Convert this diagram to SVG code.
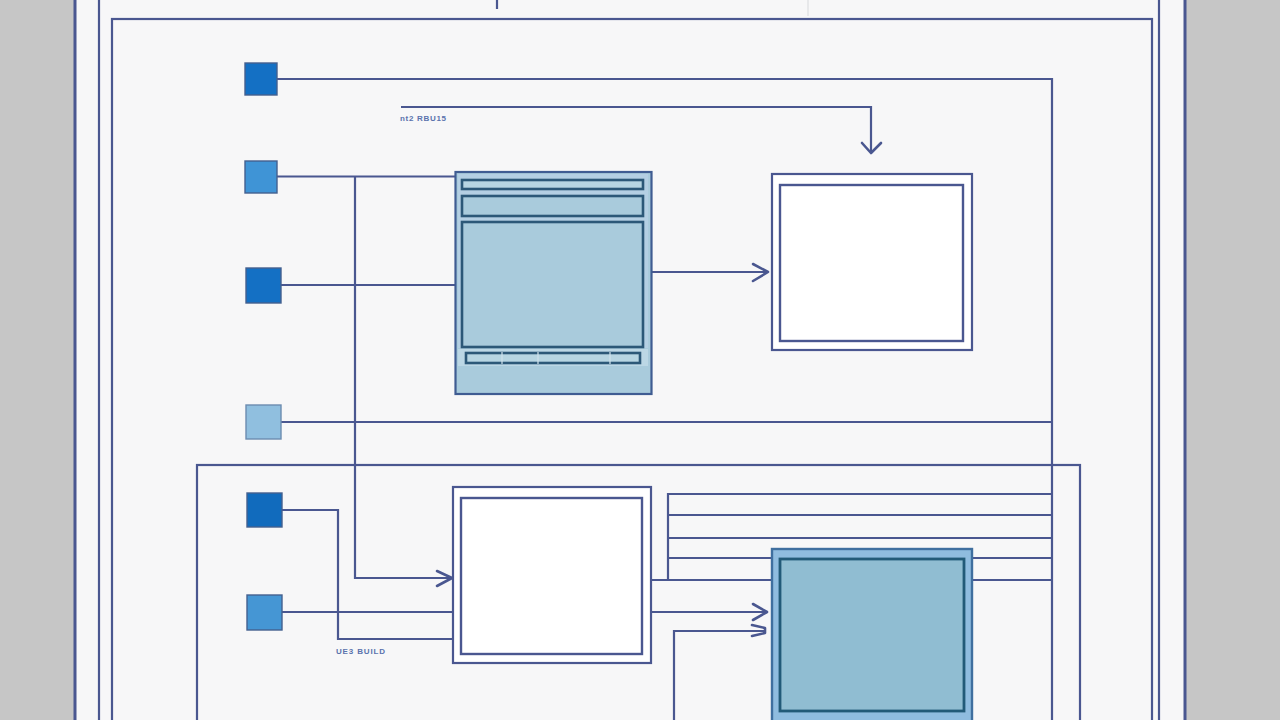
<svg xmlns="http://www.w3.org/2000/svg" width="1280" height="720" viewBox="0 0 1280 720">
<style>
.l{fill:none;stroke:#4a5790;stroke-width:2.2}
.f{stroke:#4a5790;stroke-width:2.2;fill:#f7f7f8}
.a{fill:none;stroke:#4a5790;stroke-width:2.6;stroke-linecap:round;stroke-linejoin:round}
.b{fill:#fff;stroke:#4a5790;stroke-width:2.2}
.d{stroke:#2c5878;stroke-width:2.6}
.t{font:bold 8px "Liberation Sans",Arial,sans-serif;fill:#5a73ad}
</style>
<rect width="1280" height="720" fill="#c6c6c6"/>
<rect id="page" x="75" y="-4" width="1110" height="730" class="f" style="stroke-width:3"/>
<rect id="frame2" x="99" y="-4" width="1060" height="730" class="f"/>
<rect id="frame3" x="112" y="19" width="1040" height="710" class="f"/>
<rect id="bottom-frame" x="197" y="465" width="883" height="260" class="f"/>
<g id="connectors">
<path class="l" d="M497 0V9"/>
<path d="M808 0V16" stroke="#e2e3e6" stroke-width="1.500" fill="none"/>
<path class="l" d="M277 79H1052V725"/>
<path class="l" d="M401 107H871V152"/>
<path class="a" d="M862 143L871 153L881 143"/>
<path class="l" d="M277 176.500H455"/>
<path class="l" d="M281 285H455"/>
<path class="l" d="M355 177V578H450"/>
<path class="a" d="M437 571L452 578L437 586"/>
<path class="l" d="M652 272H767"/>
<path class="a" d="M753 264L768 272L753 281"/>
<path class="l" d="M281 422H1052"/>
<path class="l" d="M282 510H338V639H453"/>
<path class="l" d="M282 612H453"/>
<path class="l" d="M652 580H772M972 580H1052"/>
<path class="l" d="M668 580V494H1052"/>
<path class="l" d="M668 515H1052M668 538H1052M668 558H772M972 558H1052"/>
<path class="l" d="M652 612H765"/>
<path class="a" d="M753 604L767 612L753 620"/>
<path class="l" d="M674 725V631H764"/>
<path class="a" d="M752 625L765 628L765 633L752 636"/>
</g>
<g id="n1"><rect x="245" y="63" width="32" height="32" fill="#1470c4" stroke="#44608f" stroke-width="1.400"/></g>
<g id="n2"><rect x="245" y="161" width="32" height="32" fill="#3f94d6" stroke="#44608f" stroke-width="1.400"/></g>
<g id="n3"><rect x="246" y="268" width="35" height="35" fill="#1470c4" stroke="#44608f" stroke-width="1.400"/></g>
<g id="n4"><rect x="246" y="405" width="35" height="34" fill="#90bfdf" stroke="#6c8cb0" stroke-width="1.400"/></g>
<g id="n5"><rect x="247" y="493" width="35" height="34" fill="#116bbd" stroke="#44608f" stroke-width="1.400"/></g>
<g id="n6"><rect x="247" y="595" width="35" height="35" fill="#4596d4" stroke="#44608f" stroke-width="1.400"/></g>
<g id="panel-a">
<rect x="455.500" y="172" width="196" height="222" fill="#a9cbdc" stroke="#3f5c92" stroke-width="2.200"/>
<rect x="458" y="174" width="190" height="174" fill="#b4cfe3"/>
<rect x="462" y="180" width="181" height="9" fill="#b7d5e2" class="d"/>
<rect x="462" y="196" width="181" height="20" fill="#a9cbdc" class="d"/>
<rect x="462" y="222" width="181" height="125" fill="#a9cbdc" class="d"/>
<rect x="458" y="349" width="190" height="17" fill="#bcd7e5"/>
<rect x="466" y="353" width="174" height="10" fill="#b7d5e2" class="d"/>
<path d="M502 352V364M538 352V364M610 352V364" stroke="#cfe2ec" stroke-width="1.200"/>
</g>
<g id="panel-b">
<rect x="772" y="174" width="200" height="176" class="b"/>
<rect x="780" y="185" width="183" height="156" class="b" style="stroke-width:2.4"/>
</g>
<g id="panel-c">
<rect x="453" y="487" width="198" height="176" class="b"/>
<rect x="461" y="498" width="181" height="156" class="b" style="stroke-width:2.4"/>
</g>
<g id="panel-d">
<rect x="772" y="549" width="200" height="180" fill="#8fbcdf" stroke="#3f6f9f" stroke-width="2.400"/>
<rect x="780" y="559" width="184" height="152" fill="#90bdd2" stroke="#225a78" stroke-width="2.800"/>
</g>
<text class="t" x="400" y="121" textLength="46">nt2 RBU15</text>
<text class="t" x="336" y="654" textLength="49">UE3 BUILD</text>
</svg>
